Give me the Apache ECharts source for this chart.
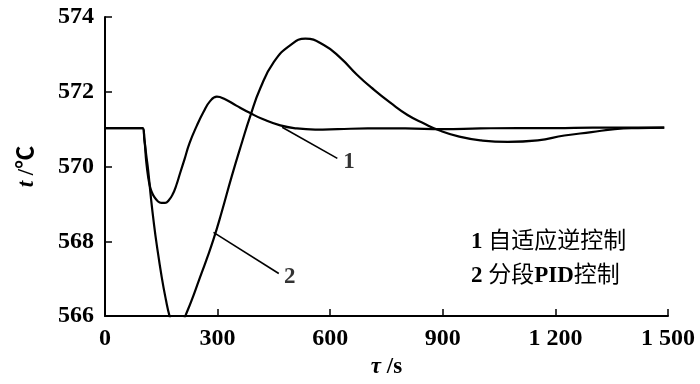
<!DOCTYPE html>
<html>
<head>
<meta charset="utf-8">
<script src="https://cdn.jsdelivr.net/npm/echarts@6/dist/echarts.min.js"></script>
<style>
html, body { margin: 0; padding: 0; background: #fff; }
#main { width: 700px; height: 384px; }
</style>
</head>
<body>
<div id="main"></div>
<script>
// curve 1: adaptive inverse control
var adaptT = [0, 100, 105, 110, 115, 120, 125, 130, 140, 150, 160, 170, 180, 190, 200, 212, 225, 245, 262, 280, 298, 320, 350, 387, 420, 467, 510, 560, 620, 700, 800, 900, 1000, 1100, 1200, 1300, 1400, 1490];
var adaptV = [571.03, 571.03, 570.72, 570.12, 569.72, 569.46, 569.31, 569.21, 569.08, 569.03, 569.03, 569.1, 569.25, 569.5, 569.82, 570.2, 570.62, 571.1, 571.45, 571.75, 571.87, 571.8, 571.63, 571.43, 571.27, 571.1, 571.02, 570.99, 571.0, 571.02, 571.02, 571.0, 571.02, 571.03, 571.03, 571.04, 571.04, 571.04];
// curve 2: piecewise PID control
var pidT = [0, 100, 105, 110, 115, 122, 130, 138, 151, 162, 172, 182, 193, 204, 214, 230, 250, 270, 289, 310, 338, 365, 387, 414, 450, 494, 534, 583, 628, 672, 717, 761, 806, 850, 890, 944, 1002, 1073, 1153, 1224, 1296, 1358, 1420, 1490];
var pidV = [571.03, 571.03, 570.72, 570.3, 569.9, 569.2, 568.5, 567.9, 567.05, 566.45, 566.0, 565.7, 565.6, 565.72, 566.0, 566.4, 566.95, 567.5, 568.05, 568.75, 569.75, 570.65, 571.35, 572.1, 572.8, 573.25, 573.42, 573.25, 572.9, 572.45, 572.05, 571.7, 571.38, 571.15, 570.97, 570.8, 570.7, 570.66, 570.7, 570.83, 570.92, 571.0, 571.03, 571.04];
// curve labels with leader lines
var leader1 = [[472, 571.05], [619, 570.22]];
var leader2 = [[289, 568.24], [463, 567.14]];
var curveLabels = [{ value: [650, 570.13], name: '1' }, { value: [492, 567.05], name: '2' }];
var xTicks = [0, 300, 600, 900, 1200, 1500];
var yTicks = [566, 568, 570, 572, 574];

function pairs(t, v) {
	var out = [];
	for (var i = 0; i < t.length; i++) {
		out.push([t[i], v[i]]);
	}
	return out;
}

var serif = "'Liberation Serif', 'Noto Sans CJK SC', serif";
var myChart = echarts.init(document.getElementById('main'));
var option = {
	animation: false,
	backgroundColor: '#fff',
	title: {
		text: '{b|1} 自适应逆控制\n{b|2} 分段{b|PID}控制',
		left: 466,
		top: 220,
		textStyle: {
			fontFamily: serif,
			fontSize: 23,
			fontWeight: 'normal',
			color: '#000',
			lineHeight: 34,
			rich: {
				b: { fontFamily: serif, fontSize: 23, fontWeight: 'bold', color: '#000', lineHeight: 34 }
			}
		}
	},
	grid: {
		left: 105,
		right: 32,
		top: 17,
		bottom: 64
	},
	xAxis: {
		type: 'value',
		min: 0,
		max: 1500,
		interval: 300,
		name: '{i|τ} /s',
		nameLocation: 'middle',
		nameGap: 35,
		nameTextStyle: {
			fontFamily: serif,
			fontSize: 23,
			fontWeight: 'bold',
			color: '#000',
			rich: {
				i: { fontFamily: serif, fontSize: 23, fontStyle: 'italic', fontWeight: 'bold', color: '#000' }
			}
		},
		axisLine: { lineStyle: { color: '#000', width: 2 } },
		axisTick: { inside: true, length: 7, lineStyle: { color: '#000', width: 1.5 } },
		axisLabel: {
			margin: 11,
			fontFamily: serif,
			fontSize: 24,
			fontWeight: 'bold',
			color: '#000',
			formatter: function (v) {
				return xTicks.indexOf(v) < 0 ? '' : String(v).replace(/\B(?=(\d{3})+(?!\d))/g, ' ');
			}
		},
		splitLine: { show: false }
	},
	yAxis: {
		type: 'value',
		min: 566,
		max: 574,
		interval: 2,
		name: '{i|t} /℃',
		nameLocation: 'middle',
		nameGap: 66,
		nameRotate: 90,
		nameTextStyle: {
			fontFamily: serif,
			fontSize: 23,
			fontWeight: 'bold',
			color: '#000',
			rich: {
				i: { fontFamily: serif, fontSize: 23, fontStyle: 'italic', fontWeight: 'bold', color: '#000' }
			}
		},
		axisLine: { show: true, lineStyle: { color: '#000', width: 2 } },
		axisTick: { show: true, inside: true, length: 7, lineStyle: { color: '#000', width: 1.5 } },
		axisLabel: {
			margin: 11,
			fontFamily: serif,
			fontSize: 24,
			fontWeight: 'bold',
			color: '#000',
			formatter: function (v) {
				return yTicks.indexOf(v) < 0 ? '' : String(v);
			}
		},
		splitLine: { show: false }
	},
	series: [{
		name: '1',
		type: 'line',
		data: pairs(adaptT, adaptV),
		smooth: 0.5,
		showSymbol: false,
		clip: true,
		lineStyle: { color: '#000', width: 2.2 }
	}, {
		name: '2',
		type: 'line',
		data: pairs(pidT, pidV),
		smooth: 0.5,
		showSymbol: false,
		clip: true,
		lineStyle: { color: '#000', width: 2.2 }
	}, {
		type: 'line',
		data: leader1,
		showSymbol: false,
		silent: true,
		lineStyle: { color: '#000', width: 1.6 }
	}, {
		type: 'line',
		data: leader2,
		showSymbol: false,
		silent: true,
		lineStyle: { color: '#000', width: 1.6 }
	}, {
		type: 'scatter',
		data: curveLabels,
		symbolSize: 0,
		silent: true,
		label: {
			show: true,
			position: 'inside',
			formatter: '{b}',
			fontFamily: serif,
			fontSize: 23,
			fontWeight: 'bold',
			color: '#000'
		}
	}]
};
myChart.setOption(option);
</script>
</body>
</html>
